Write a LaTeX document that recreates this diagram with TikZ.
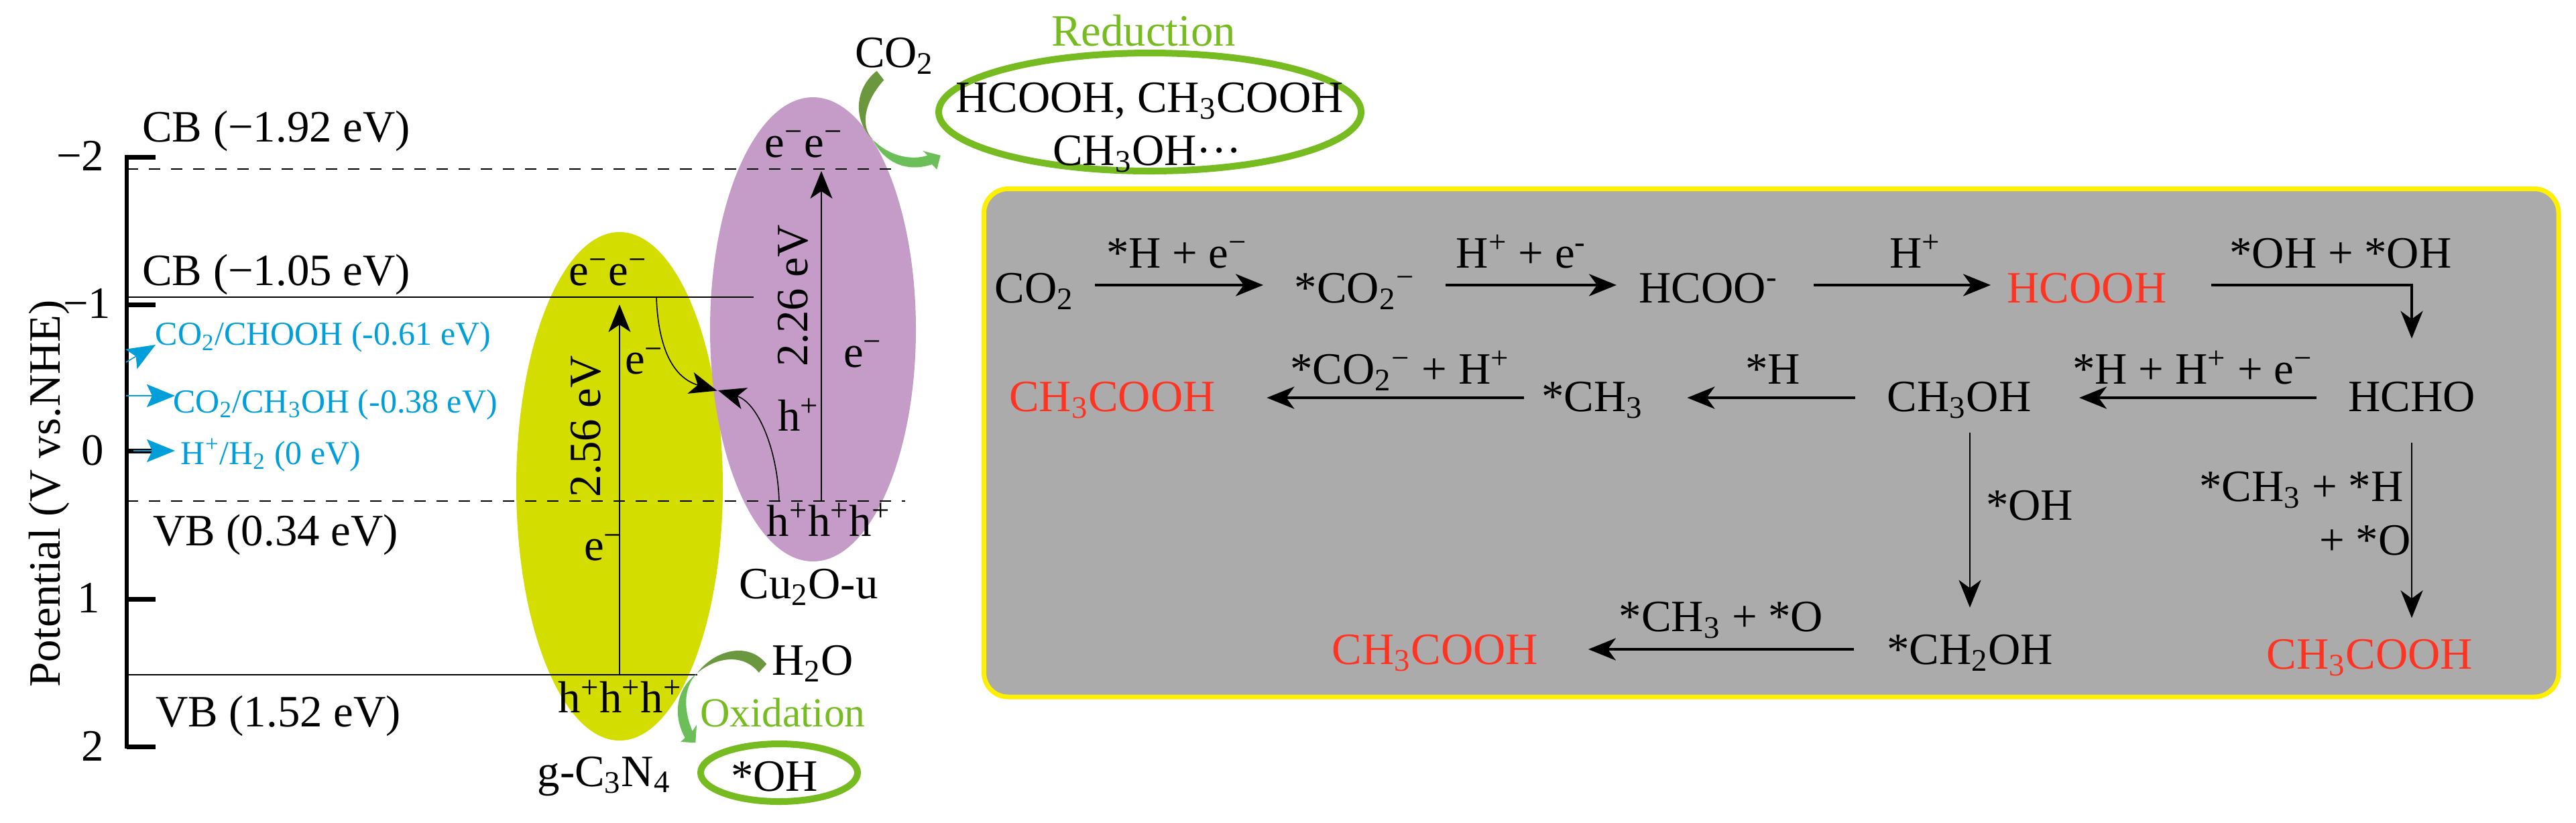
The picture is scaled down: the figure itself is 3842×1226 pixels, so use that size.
\documentclass[tikz,border=0pt]{standalone}
\usepackage{fontspec}
\setmainfont{Liberation Serif}
\usetikzlibrary{arrows.meta}
\definecolor{gcnyellow}{HTML}{D3DD00}
\definecolor{cuopurple}{HTML}{C59CC7}
\definecolor{redoxblue}{HTML}{009FDA}
\definecolor{prodgreen}{HTML}{76BC21}
\definecolor{leafdark}{HTML}{6B983F}
\definecolor{leaflight}{HTML}{6CBF58}
\definecolor{boxyellow}{HTML}{FFF000}
\definecolor{boxgray}{HTML}{ABABAB}
\definecolor{prodred}{HTML}{FF3322}
\newcommand{\subt}[1]{\textsubscript{#1}}
\newcommand{\supt}[1]{\textsuperscript{#1}}
\tikzset{
  lab/.style={anchor=base, inner sep=0pt, font=\fontsize{19}{22}\selectfont},
  rowa/.style={lab, text height=.52cm, text depth=0pt},
  rowb/.style={lab, text height=.41cm, text depth=0pt},
  rowc/.style={lab, text height=.45cm, text depth=0pt},
  redox/.style={lab, text=redoxblue, font=\fontsize{14.2}{17}\selectfont},
  level/.style={line width=.02cm},
  leveldash/.style={level, dash pattern=on .17cm off .16cm},
  flow/.style={line width=.04cm, -{Stealth[length=.41cm,width=.33cm,inset=.12cm]}},
  flowdown/.style={flow, line width=.025cm},
  gap/.style={line width=.016cm, -{Stealth[length=.41cm,width=.33cm,inset=.11cm]}},
  redoxarrow/.style={redoxblue, line width=.016cm, -{Stealth[length=.42cm,width=.34cm,inset=.08cm]}}
}
\begin{document}
\begin{tikzpicture}[x=0.01cm, y=-0.01cm]
  \useasboundingbox (0,0) rectangle (3842,1226);

  % Band ellipses
  \fill[gcnyellow] (924,725) ellipse (154 and 379);
  \fill[cuopurple] (1212.5,491) ellipse (153.5 and 346);

  % Potential axis
  \coordinate (axtop) at (189,231);
  \coordinate (axbot) at (189,1116);
  \draw[line width=.06cm] (axtop) -- (axbot);
  \foreach \ypos/\xlab/\ylab/\txt in {234/156/254/−2, 454/166/474/−1, 672/156/693/0, 893/150/913/1, 1113/156/1134/2} {
    \coordinate (tick\ypos) at (189,\ypos);
    \draw[line width=.07cm] (tick\ypos) -- ++(43,0);
    \node[lab, anchor=base east] (val\ypos) at (\xlab,\ylab) {\txt};
  }
  \node[lab, rotate=90] (axlabel) at (89,736) {Potential (V vs.NHE)};

  % Band levels
  \coordinate (cbcua) at (189,251.5);
  \coordinate (cbcub) at (1338,251.5);
  \coordinate (cbga) at (189,443);
  \coordinate (cbgb) at (1124,443);
  \coordinate (vbcua) at (189,747);
  \coordinate (vbcub) at (1350,747);
  \coordinate (vbga) at (192,1005.5);
  \coordinate (vbgb) at (1040,1005.5);
  \draw[leveldash] (cbcua) -- (cbcub);
  \draw[level] (cbga) -- (cbgb);
  \draw[leveldash] (vbcua) -- (vbcub);
  \draw[level] (vbga) -- (vbgb);
  \node[lab] (cbcu) at (412,211) {CB (−1.92 eV)};
  \node[lab] (cbg) at (412,425) {CB (−1.05 eV)};
  \node[lab] (vbcu) at (411,813.5) {VB (0.34 eV)};
  \node[lab] (vbg) at (415,1083) {VB (1.52 eV)};

  % Redox potentials
  \node[redox] (rda) at (482,514.5) {CO\subt{2}/CHOOH (-0.61 eV)};
  \node[redox] (rdb) at (500,615) {CO\subt{2}/CH\subt{3}OH (-0.38 eV)};
  \node[redox] (rdc) at (404,692) {H\supt{+}/H\subt{2} (0 eV)};
  \coordinate (rdaa) at (188,540);
  \coordinate (rdab) at (232,514);
  \coordinate (rdba) at (188,590);
  \coordinate (rdbb) at (261,590);
  \coordinate (rdca) at (199,672);
  \coordinate (rdcb) at (261,672);
  \draw[redoxarrow] (rdaa) -- (rdab);
  \draw[redoxarrow] (rdba) -- (rdbb);
  \draw[redoxarrow] (rdca) -- (rdcb);

  % Excitation arrows
  \coordinate (gup) at (924,454);
  \coordinate (gdn) at (924,1005.5);
  \coordinate (cup) at (1225,255);
  \coordinate (cdn) at (1225,747);
  \draw[gap] (gdn) -- (gup);
  \draw[gap] (cdn) -- (cup);
  \coordinate (ejoin) at (979,443);
  \coordinate (ein) at (1069.5,582.5);
  \coordinate (hjoin) at (1162,748);
  \coordinate (hin) at (1071,582);
  \draw[gap] (ejoin) .. controls (982,530) and (1010,565) .. (ein);
  \draw[gap] (hjoin) .. controls (1160,670) and (1130,600) .. (hin);

  \node[lab] (ec) at (1199,234) {e\supt{−}\hspace{.01cm}e\supt{−}};
  \node[lab] (eg) at (907,425) {e\supt{−}\hspace{.01cm}e\supt{−}};
  \node[lab, rotate=90] (gapc) at (1204,441) {2.26 eV};
  \node[lab, rotate=90] (gapg) at (895,636) {2.56 eV};
  \node[lab] (eca) at (1287,547) {e\supt{−}};
  \node[lab] (hca) at (1191,642.5) {h\supt{+}};
  \node[lab] (ega) at (961,557.5) {e\supt{−}};
  \node[lab] (egb) at (900,835.5) {e\supt{−}};
  \node[lab] (hc) at (1236,799) {h\supt{+}h\supt{+}h\supt{+}};
  \node[lab] (hg) at (925,1062.5) {h\supt{+}h\supt{+}h\supt{+}};
  \node[lab] (cuo) at (1206,892) {Cu\subt{2}O-u};
  \node[lab] (gcn) at (901,1172) {g-C\subt{3}N\subt{4}};

  % Reduction side
  \fill[leafdark] (1307.7,105.7) .. controls (1273,133) and (1273,181) .. (1301.7,208)
    .. controls (1284,190) and (1287,154) .. (1318.3,119.3) -- cycle;
  \fill[leaflight] (1301.7,208) .. controls (1325,232) and (1358,240) .. (1383.3,231.7)
    -- (1376.7,225) -- (1402.7,231.7) -- (1397.3,252.7) -- (1390,245)
    .. controls (1355,257) and (1320,245) .. (1301.7,208) -- cycle;
  \draw[prodgreen, line width=.1cm] (1715,167) ellipse (315 and 88);
  \node[lab] (co2in) at (1334,100.5) {CO\subt{2}};
  \node[lab, text=prodgreen] (redn) at (1705.5,68.5) {Reduction};
  \node[lab] (proda) at (1714.5,167) {HCOOH, CH\subt{3}COOH};
  \node[lab] (prodb) at (1711,246.5) {CH\subt{3}OH···};

  % Oxidation side
  \fill[leafdark] (1040,1003.3) .. controls (1065,970) and (1115,955) .. (1143.3,990)
    -- (1131.7,1002.7) .. controls (1110,975) and (1070,978) .. (1040,1003.3) -- cycle;
  \fill[leaflight] (1040,1003.3) .. controls (1005,1030) and (1005,1070) .. (1021.7,1100)
    -- (1015,1106) -- (1037.3,1107.3) -- (1039,1080.7) -- (1032.7,1090)
    .. controls (1020,1060) and (1018,1025) .. (1040,1003.3) -- cycle;
  \draw[prodgreen, line width=.1cm] (1162,1152) ellipse (117 and 43);
  \node[lab] (h2o) at (1212,1006.5) {H\subt{2}O};
  \node[lab, text=prodgreen, font=\fontsize{17.5}{20}\selectfont] (oxid) at (1167.5,1083) {Oxidation};
  \node[lab] (ohout) at (1155,1179) {*OH};

  % Pathway box
  \draw[boxyellow, fill=boxgray, line width=.07cm, rounded corners=.36cm] (1467.5,281.5) rectangle (3816,1039);

  \node[rowa] (co2) at (1542.5,451) {CO\subt{2}};
  \node[rowa] (co2a) at (2020.5,451) {*CO\subt{2}\supt{−}};
  \node[rowa] (hcoo) at (2548,451) {HCOO\supt{-}};
  \node[rowa, text=prodred] (hcooh) at (3112.5,451) {HCOOH};
  \node[rowb] (hcho) at (3597,613.5) {HCHO};
  \node[rowb] (ch3oh) at (2922,613.5) {CH\subt{3}OH};
  \node[rowb] (ch3) at (2375,613.5) {*CH\subt{3}};
  \node[rowb, text=prodred] (hacl) at (1659,613.5) {CH\subt{3}COOH};
  \node[rowc] (ch2oh) at (2938,990.5) {*CH\subt{2}OH};
  \node[rowc, text=prodred] (hacm) at (2140.5,990.5) {CH\subt{3}COOH};
  \node[rowc, text=prodred] (hacr) at (3534.5,997) {CH\subt{3}COOH};

  \draw[flow, shorten <=.31cm, shorten >=.46cm] (co2) -- (co2a);
  \draw[flow, shorten <=.45cm, shorten >=.33cm] (co2a) -- (hcoo);
  \draw[flow, shorten <=.53cm, shorten >=.24cm] (hcoo) -- (hcooh);
  \draw[flow, shorten <=.66cm, shorten >=.67cm] (hcooh) -| (hcho);
  \draw[flow, shorten <=.47cm, shorten >=.71cm] (hcho) -- (ch3oh);
  \draw[flow, shorten <=.47cm, shorten >=.65cm] (ch3oh) -- (ch3);
  \draw[flow, shorten <=.26cm, shorten >=.76cm] (ch3) -- (hacl);
  \draw[flowdown, shorten <=.31cm, shorten >=.39cm] (ch3oh.south -| ch2oh.north) -- (ch2oh.north);
  \draw[flowdown, shorten <=.46cm, shorten >=.30cm] (hcho.south) -- (hcho.south |- hacr.north);
  \draw[flow, shorten <=.48cm, shorten >=.74cm] (ch2oh) -- (hacm);

  \node[lab] (sa) at (1755.5,399) {*H + e\supt{−}};
  \node[lab] (sb) at (2269,399) {H\supt{+} + e\supt{-}};
  \node[lab] (sc) at (2856.5,399) {H\supt{+}};
  \node[lab] (sd) at (3491,399) {*OH + *OH};
  \node[lab] (se) at (3270.5,572) {*H + H\supt{+} + e\supt{−}};
  \node[lab] (sf) at (2644,572) {*H};
  \node[lab] (sg) at (2088,572) {*CO\subt{2}\supt{−} + H\supt{+}};
  \node[lab] (sh) at (3027,775) {*OH};
  \node[lab] (si) at (3432.5,747) {*CH\subt{3} + *H};
  \node[lab] (sj) at (3527.5,827) {+ *O};
  \node[lab] (sk) at (2567,941) {*CH\subt{3} + *O};
\end{tikzpicture}
\end{document}
